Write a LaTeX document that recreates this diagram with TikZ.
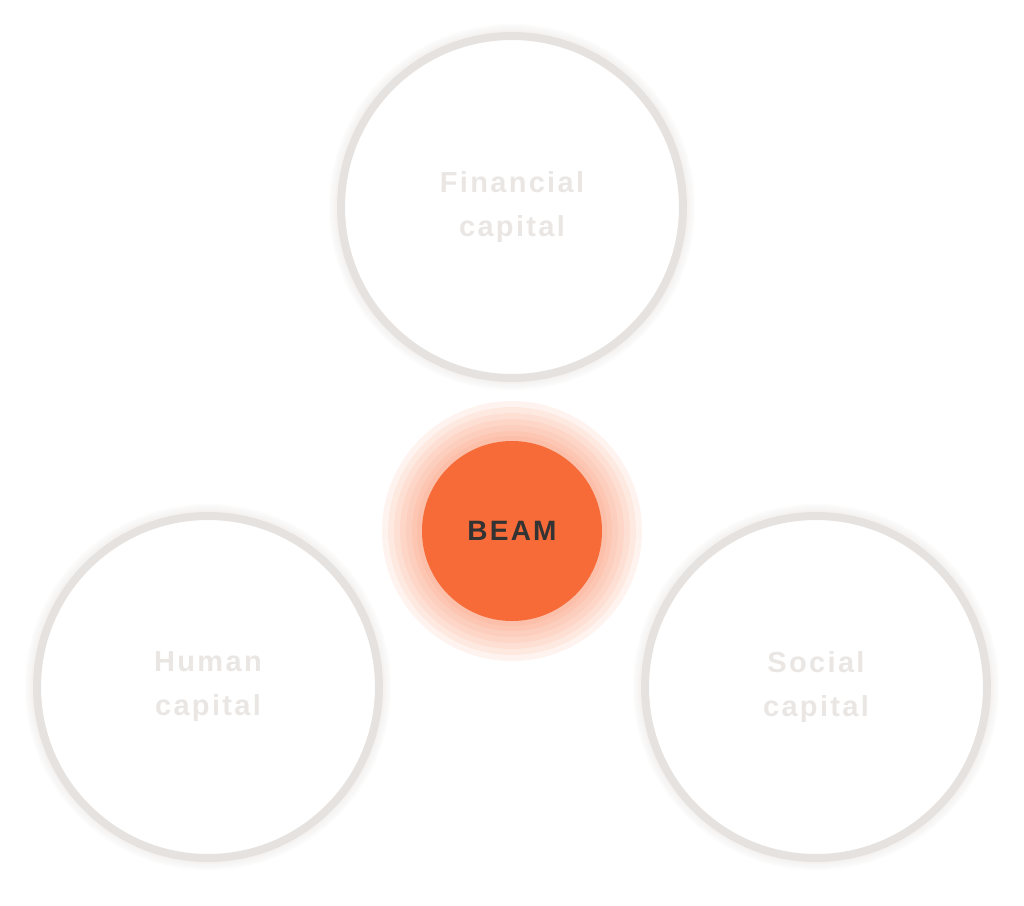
\documentclass[tikz,border=0pt]{standalone}
\usepackage{fontspec}
\setmainfont{Liberation Sans}
\newfontfamily\spaced[LetterSpace=8]{Liberation Sans}
\definecolor{ring}{HTML}{E6E2DF}
\definecolor{lbl}{HTML}{EAE6E3}
\definecolor{beam}{HTML}{F76B38}
\definecolor{dark}{HTML}{333333}
\tikzset{
  capring/.style={circle, draw=ring, line width=8pt, minimum size=342pt, inner sep=0pt,
    font=\spaced\bfseries\fontsize{29}{44}\selectfont, text=lbl, align=center},
}
\begin{document}
\begin{tikzpicture}[x=1pt,y=-1pt]
\useasboundingbox (0,0) rectangle (1024,905);
% soft halos
\foreach \p/\c in {(512,207)/top,(208,687)/left,(816,687)/right}{
  \foreach \r in {16,12,8,4}{
    \draw[ring, opacity=0.12, line width=\r pt] \p circle (175);
  }
}
\foreach \r in {40,34,28,22,16,10,5}{
  \fill[beam, opacity=0.08] (512,531) circle (90+\r);
}
\node[capring] (fin) at (512,207) {Financial\\capital};
\node[capring] (hum) at (208,687) {Human\\capital};
\node[capring] (soc) at (816,687) {Social\\capital};
\node[circle, fill=beam, minimum size=180pt, inner sep=0pt, text=dark,
  font=\spaced\bfseries\fontsize{28}{34}\selectfont] (beam) at (512,531) {BEAM};
\end{tikzpicture}
\end{document}
